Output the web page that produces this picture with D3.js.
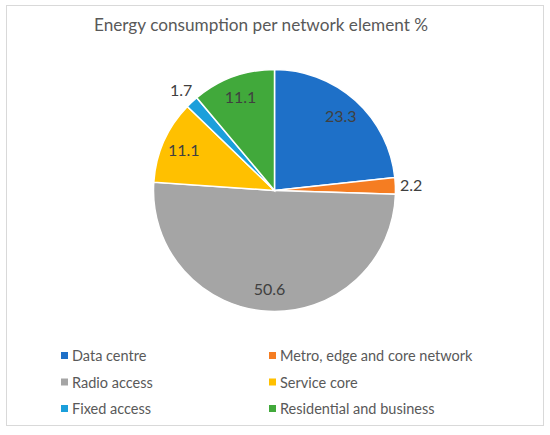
<!DOCTYPE html>
<html>
<head>
<meta charset="utf-8">
<script src="https://cdn.jsdelivr.net/npm/d3@7"></script>
<style>
  body { margin: 0; background: #fff; }
  text { font-family: Lato, "Open Sans", sans-serif; }
</style>
</head>
<body>
<div id="chart"></div>
<script>
// chart data
const categories = ['Data centre', 'Metro, edge and core network', 'Radio access',
                    'Service core', 'Fixed access', 'Residential and business'];
const values = [23.3, 2.2, 50.6, 11.1, 1.7, 11.1];
const colors = ['#1E70C8', '#F57D22', '#A5A5A5', '#FFC000', '#1B9FDB', '#41A93B'];

const width = 550, height = 435;

const svg = d3.select('#chart')
  .append('svg')
  .attr('width', width)
  .attr('height', height);

// chart frame
svg.append('rect')
  .attr('x', 6.5).attr('y', 5.5)
  .attr('width', 537).attr('height', 420)
  .attr('fill', '#fff')
  .attr('stroke', '#d9d9d9');

svg.append('text')
  .attr('x', 261).attr('y', 31)
  .attr('text-anchor', 'middle')
  .attr('font-size', 17.2)
  .attr('fill', '#595959')
  .text('Energy consumption per network element %');

const cx = 274.5, cy = 190.5, r = 121;

const pie = d3.pie().sort(null).value(d => d.v);
const arcs = pie(values.map((v, i) => ({ v, name: categories[i], i })));
const arc = d3.arc().innerRadius(0).outerRadius(r);

const g = svg.append('g').attr('transform', `translate(${cx},${cy})`);

g.selectAll('path')
  .data(arcs)
  .enter()
  .append('path')
  .attr('d', arc)
  .attr('fill', d => colors[d.data.i])
  .attr('stroke', '#fff')
  .attr('stroke-width', 1.5);

// label positions: inside for big slices, outside for thin ones
const inner = d3.arc().innerRadius(r * 0.82).outerRadius(r * 0.82);
const outer = d3.arc().innerRadius(r * 1.13).outerRadius(r * 1.13);

g.selectAll('text.lbl')
  .data(arcs)
  .enter()
  .append('text')
  .attr('class', 'lbl')
  .attr('transform', d => {
    const p = d.data.v < 3 ? outer.centroid(d) : inner.centroid(d);
    return `translate(${p[0]},${p[1]})`;
  })
  .attr('text-anchor', 'middle')
  .attr('dy', '0.35em')
  .attr('font-size', 16)
  .attr('fill', '#404040')
  .text(d => d.data.v.toFixed(1));

// legend, two columns
const legend = svg.append('g');
const item = legend.selectAll('g')
  .data(categories)
  .enter()
  .append('g')
  .attr('transform', (d, i) => `translate(${i % 2 ? 269 : 61},${356 + Math.floor(i / 2) * 26.5})`);

item.append('rect')
  .attr('x', 0).attr('y', -4)
  .attr('width', 7).attr('height', 7)
  .attr('fill', (d, i) => colors[i]);

item.append('text')
  .attr('x', 11).attr('y', 0)
  .attr('dy', '0.35em')
  .attr('font-size', 14.5)
  .attr('fill', '#595959')
  .text(d => d);
</script>
</body>
</html>
